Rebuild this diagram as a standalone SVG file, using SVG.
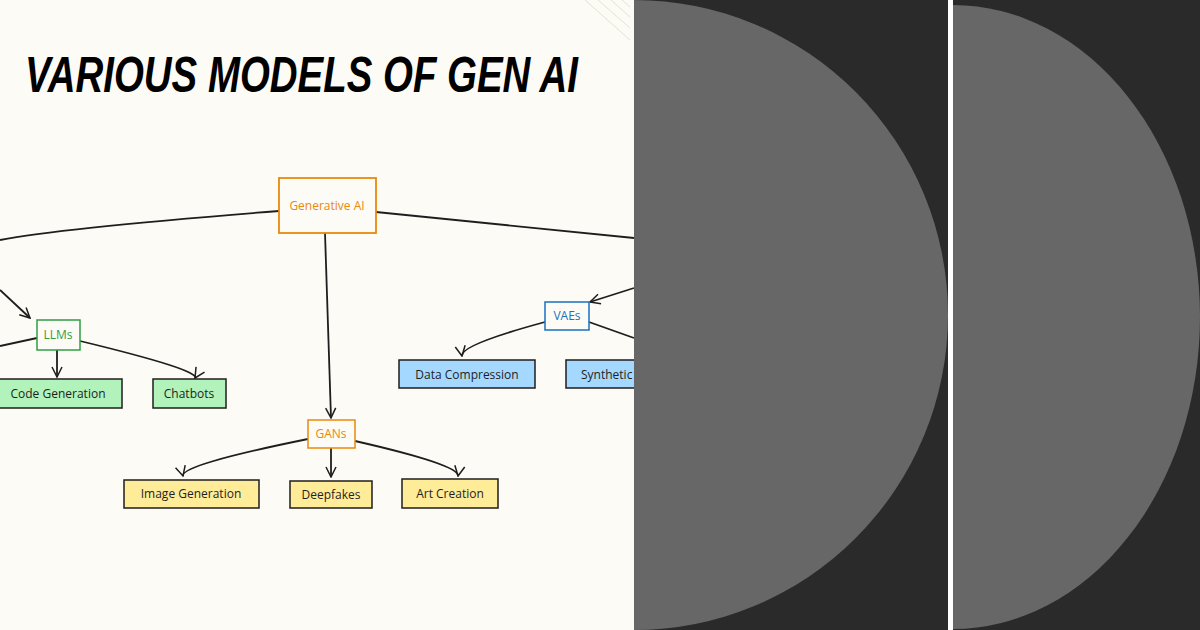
<svg xmlns="http://www.w3.org/2000/svg" width="1200" height="630" viewBox="0 0 1200 630">
<defs>
<marker id="ah" viewBox="0 0 12 12" refX="11" refY="6" markerWidth="12" markerHeight="12" markerUnits="userSpaceOnUse" orient="auto"><path d="M1,1 L11,6 L1,11" fill="none" stroke="#1e1e1e" stroke-width="1.5"/></marker>
</defs>
<style>
.t{font-family:"Open Sans","DejaVu Sans",sans-serif;font-size:12px;text-anchor:middle;fill:#1e1e1e}
.c{fill:none;stroke:#1e1e1e;stroke-width:1.8}
.g{fill:#b2f2bb;stroke:#1e1e1e;stroke-width:1.5}
.y{fill:#ffec99;stroke:#1e1e1e;stroke-width:1.5}
.b{fill:#a5d8ff;stroke:#1e1e1e;stroke-width:1.5}
</style>
<rect width="1200" height="630" fill="#fdfbf5"/>
<g stroke="#e8e0d0" stroke-width="1">
<line x1="585" y1="0" x2="630" y2="40"/><line x1="598" y1="0" x2="630" y2="28"/><line x1="611" y1="0" x2="630" y2="17"/><line x1="622" y1="0" x2="630" y2="7"/>
</g>
<text x="25" y="92" font-family="Liberation Sans, sans-serif" font-weight="bold" font-style="italic" font-size="50" textLength="553" lengthAdjust="spacingAndGlyphs" fill="#000">VARIOUS MODELS OF GEN AI</text>
<g id="connectors">
<path class="c" d="M279,211 Q60,228 0,240"/>
<path class="c" d="M0,290 L30,318" marker-end="url(#ah)"/>
<path class="c" d="M37,338 L0,346"/>
<path class="c" d="M57,350 L57,377" marker-end="url(#ah)"/>
<path class="c" d="M80,341 Q200,370 195,378" marker-end="url(#ah)"/>
<path class="c" d="M325,233 L331,418" marker-end="url(#ah)"/>
<path class="c" d="M308,439 Q180,465 183,476" marker-end="url(#ah)"/>
<path class="c" d="M331,448 L331,477" marker-end="url(#ah)"/>
<path class="c" d="M355,441 Q460,465 458,476" marker-end="url(#ah)"/>
<path class="c" d="M376,212 Q540,228 634,238"/>
<path class="c" d="M634,288 L590,302" marker-end="url(#ah)"/>
<path class="c" d="M545,322 Q460,345 462,356" marker-end="url(#ah)"/>
<path class="c" d="M589,322 L634,338"/>
</g>
<g id="genai"><rect x="279" y="178" width="97" height="55" fill="none" stroke="#e8890c" stroke-width="1.8"/><text class="t" x="327" y="210" fill="#e8890c" style="fill:#e8890c">Generative AI</text></g>
<g id="llms"><rect x="37" y="320" width="43" height="30" fill="none" stroke="#2f9e44" stroke-width="1.5"/><text class="t" x="58" y="339" style="fill:#2f9e44">LLMs</text></g>
<g id="codegen"><rect class="g" x="-5" y="379" width="127" height="29"/><text class="t" x="58" y="398">Code Generation</text></g>
<g id="chatbots"><rect class="g" x="153" y="379" width="73" height="29"/><text class="t" x="189" y="398">Chatbots</text></g>
<g id="gans"><rect x="308" y="420" width="47" height="28" fill="none" stroke="#e8890c" stroke-width="1.5"/><text class="t" x="331" y="438" style="fill:#e8890c">GANs</text></g>
<g id="imagegen"><rect class="y" x="124" y="480" width="135" height="28"/><text class="t" x="191" y="498">Image Generation</text></g>
<g id="deepfakes"><rect class="y" x="290" y="481" width="82" height="27"/><text class="t" x="331" y="499">Deepfakes</text></g>
<g id="art"><rect class="y" x="402" y="479" width="96" height="29"/><text class="t" x="450" y="498">Art Creation</text></g>
<g id="vaes"><rect x="545" y="302" width="44" height="28" fill="none" stroke="#1971c2" stroke-width="1.5"/><text class="t" x="567" y="320" style="fill:#1971c2">VAEs</text></g>
<g id="datacomp"><rect class="b" x="399" y="360" width="136" height="28"/><text class="t" x="467" y="379">Data Compression</text></g>
<g id="synth"><rect class="b" x="566" y="360" width="90" height="28"/><text class="t" x="581" y="379" style="text-anchor:start">Synthetic Data</text></g>
<rect x="634" y="0" width="566" height="630" fill="#2a2a2a"/>
<path d="M634,0 A314,315 0 0 1 634,630 Z" fill="#676767"/>
<rect x="948" y="0" width="5" height="630" fill="#ffffff"/>
<rect x="953" y="0" width="247" height="630" fill="#2a2a2a"/>
<path d="M953,5 A247,312 0 0 1 953,629 Z" fill="#676767"/>
</svg>
